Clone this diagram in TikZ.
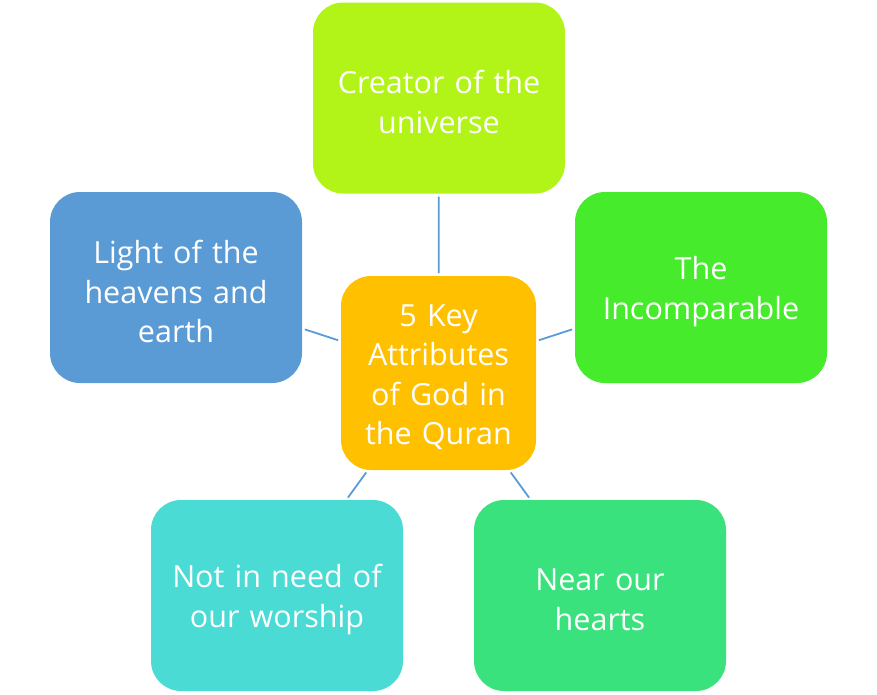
\documentclass[tikz,border=0pt]{standalone}
\usepackage{fontspec}
\setmainfont{Open Sans}
\definecolor{cTop}{HTML}{B2F418}
\definecolor{cRight}{HTML}{46EB2B}
\definecolor{cLeft}{HTML}{5B9BD5}
\definecolor{cCenter}{HTML}{FFC000}
\definecolor{cBL}{HTML}{4ADBD4}
\definecolor{cBR}{HTML}{3AE27E}
\definecolor{cLine}{HTML}{5B9BD5}
\begin{document}
\begin{tikzpicture}[x=1pt,y=-1pt,
  box/.style={rectangle, rounded corners=30pt, minimum width=252pt, minimum height=191pt,
    inner sep=0pt, outer sep=0pt},
  hub/.style={box, minimum width=195pt, minimum height=194pt},
  txt/.style={text width=244pt, align=center, text=white, inner sep=0pt,
    font=\fontsize{30.5}{39.5}\selectfont, yshift=-4pt},
  link/.style={draw=cLine, line width=1.8pt, shorten <=3pt, shorten >=3pt}]
\useasboundingbox (0,0) rectangle (877,694);
\node[hub, fill=cCenter, label={[txt, text width=192pt]center:{5 Key\\Attributes\\of God in\\the Quran}}] (c) at (438.5,373) {};
\node[box, fill=cTop, label={[txt]center:{Creator of the\\universe}}] (t) at (439,98) {};
\node[box, fill=cRight, label={[txt]center:{The\\Incomparable}}] (r) at (701,287.5) {};
\node[box, fill=cLeft, label={[txt]center:{Light of the\\heavens and\\earth}}] (l) at (176,287.5) {};
\node[box, fill=cBL, label={[txt]center:{Not in need of\\our worship}}] (bl) at (277,595.5) {};
\node[box, fill=cBR, label={[txt]center:{Near our\\hearts}}] (br) at (600,595.5) {};
\draw[link] (c) -- (t);
\draw[link] (c) -- (r);
\draw[link] (c) -- (l);
\draw[link] (c) -- (bl);
\draw[link] (c) -- (br);
\end{tikzpicture}
\end{document}
